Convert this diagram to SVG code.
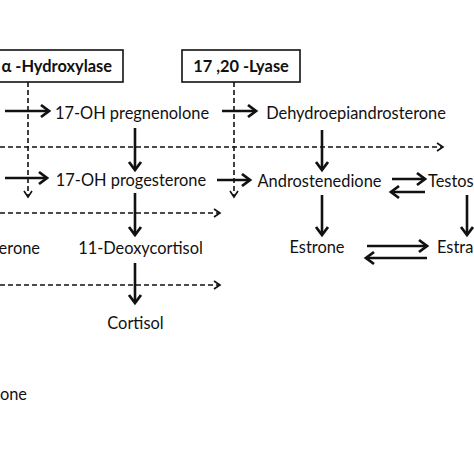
<svg xmlns="http://www.w3.org/2000/svg" width="474" height="474" viewBox="0 0 474 474">
<style>
.t{font-family:Lato,"Open Sans","Liberation Sans",sans-serif;font-size:16.4px;fill:#111}
.b{font-family:Lato,"Open Sans","Liberation Sans",sans-serif;font-size:16.4px;font-weight:bold;fill:#111}
.box{fill:#fff;stroke:#111;stroke-width:1.6}
.s{stroke:#111;stroke-width:2.6;fill:none;marker-end:url(#ms)}
.d{stroke:#111;stroke-width:1.6;fill:none;stroke-dasharray:5 3;marker-end:url(#md)}
</style>
<defs>
<marker id="ms" markerUnits="userSpaceOnUse" markerWidth="14" markerHeight="16" refX="10" refY="7" orient="auto" overflow="visible">
<path d="M2,1 L10,7 L2,13" fill="none" stroke="#111" stroke-width="2.8"/>
</marker>
<marker id="md" markerUnits="userSpaceOnUse" markerWidth="10" markerHeight="12" refX="7" refY="5" orient="auto" overflow="visible">
<path d="M1,1 L7,5 L1,9" fill="none" stroke="#111" stroke-width="1.6"/>
</marker>
</defs>
<g id="connectors">
<line class="d" x1="28" y1="82" x2="28" y2="197"/>
<line class="d" x1="234" y1="82" x2="234" y2="197"/>
<line class="s" x1="5" y1="111" x2="49" y2="111"/>
<line class="s" x1="222" y1="111" x2="256" y2="111"/>
<line class="d" x1="0" y1="147" x2="443" y2="147"/>
<line class="s" x1="135" y1="128" x2="135" y2="170"/>
<line class="s" x1="322" y1="130" x2="322" y2="170"/>
<line class="s" x1="5" y1="178" x2="47" y2="178"/>
<line class="s" x1="217" y1="180" x2="250" y2="180"/>
<line class="s" x1="392" y1="179" x2="425" y2="179"/>
<line class="s" x1="425" y1="192" x2="391" y2="192"/>
<line class="d" x1="0" y1="213" x2="220" y2="213"/>
<line class="s" x1="135" y1="193" x2="135" y2="235"/>
<line class="s" x1="322" y1="195" x2="322" y2="235"/>
<line class="s" x1="467" y1="195" x2="467" y2="235"/>
<line class="s" x1="367" y1="246" x2="427" y2="246"/>
<line class="s" x1="427" y1="258" x2="366" y2="258"/>
<line class="s" x1="135" y1="263" x2="135" y2="303"/>
<line class="d" x1="0" y1="285" x2="220" y2="285"/>
</g>
<g id="hydroxylase"><rect class="box" x="-5" y="50" width="128" height="32"/><text class="b" x="112" y="72" text-anchor="end">α -Hydroxylase</text></g>
<g id="lyase"><rect class="box" x="182" y="50" width="118" height="32"/><text class="b" x="241" y="72" text-anchor="middle">17 ,20 -Lyase</text></g>
<g id="pregnenolone17"><text class="t" x="132" y="119" text-anchor="middle">17-OH pregnenolone</text></g>
<g id="dhea"><text class="t" x="356" y="119" text-anchor="middle">Dehydroepiandrosterone</text></g>
<g id="progesterone17"><text class="t" x="131" y="186" text-anchor="middle">17-OH progesterone</text></g>
<g id="androstenedione"><text class="t" x="319.5" y="187" text-anchor="middle">Androstenedione</text></g>
<g id="testosterone"><text class="t" x="428" y="187">Testos</text></g>
<g id="deoxycorticosterone"><text class="t" x="40" y="254" text-anchor="end">erone</text></g>
<g id="deoxycortisol"><text class="t" x="140.5" y="254" text-anchor="middle">11-Deoxycortisol</text></g>
<g id="estrone"><text class="t" x="317" y="253" text-anchor="middle">Estrone</text></g>
<g id="estradiol"><text class="t" x="437" y="253">Estra</text></g>
<g id="cortisol"><text class="t" x="135.5" y="329" text-anchor="middle">Cortisol</text></g>
<g id="aldosterone"><text class="t" x="27" y="400" text-anchor="end">one</text></g>
</svg>
